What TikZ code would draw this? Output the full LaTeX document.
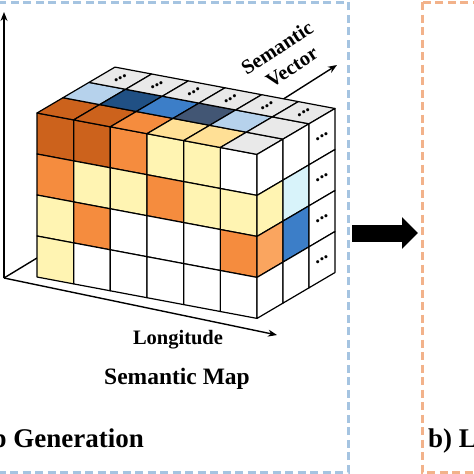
\documentclass[tikz,border=0pt]{standalone}
\usepackage{fontspec}
\setmainfont{Liberation Serif}
\usetikzlibrary{arrows.meta}

\definecolor{dkOrange}{RGB}{204,98,28}
\definecolor{midOrange}{RGB}{245,140,62}
\definecolor{sideOrange}{RGB}{250,165,95}
\definecolor{ltYellow}{RGB}{255,244,178}
\definecolor{peach}{RGB}{255,224,150}
\definecolor{ltGrey}{RGB}{233,233,233}
\definecolor{ltBlue}{RGB}{182,210,236}
\definecolor{dkBlue}{RGB}{32,80,132}
\definecolor{midBlue}{RGB}{60,126,200}
\definecolor{slate}{RGB}{66,86,116}
\definecolor{ltCyan}{RGB}{216,243,250}
\definecolor{boxBlue}{RGB}{165,196,225}
\definecolor{boxOrange}{RGB}{242,178,138}

\tikzset{
  cell/.style={draw=black, line width=1.2pt, line join=round},
  axisline/.style={line width=1.4pt, -{Stealth[length=9pt,width=7pt]}},
  dotmark/.style={font=\bfseries\fontsize{19}{19}\selectfont, inner sep=0pt, rotate=30},
  panelbox/.style={line width=3pt, dash pattern=on 8pt off 4.5pt},
  caption/.style={font=\bfseries, inner sep=0pt}
}

\begin{document}
\begin{tikzpicture}[x=1pt, y=-1pt]

  \useasboundingbox (0,0) rectangle (474,474);
  \clip (0,0) rectangle (474,474);

  % panels
  \draw[panelbox, draw=boxBlue] (-20,2) rectangle (348,472);
  \draw[panelbox, draw=boxOrange] (422,2) rectangle (500,472);

  % axes
  \coordinate (origin) at (4,278);
  \coordinate (latTip) at (4,12);
  \coordinate (lonTip) at (277,335);
  \coordinate (depthEnd) at (37,258);
  \draw[axisline] (origin) -- (latTip);
  \draw[axisline] (origin) -- (lonTip);
  \draw[line width=1.4pt] (origin) -- (depthEnd);

  % cube of semantic cells
  \begin{scope}[shift={(37pt,-113pt)}, x={(36.67pt,-6.9pt)}, y={(0pt,-41pt)}, z={(26pt,15.3pt)}]
    % front face
    \foreach \row [count=\j from 0] in {{dkOrange,dkOrange,midOrange,ltYellow,ltYellow,white},
                                        {midOrange,ltYellow,ltYellow,midOrange,ltYellow,ltYellow},
                                        {ltYellow,midOrange,white,white,white,midOrange},
                                        {ltYellow,white,white,white,white,white}} {
      \foreach \c [count=\i from 0] in \row {
        \filldraw[cell, fill=\c] (\i,\j,0) -- ++(1,0,0) -- ++(0,1,0) -- ++(-1,0,0) -- cycle;
      }
    }
    % top face
    \foreach \row [count=\k from 0] in {{dkOrange,dkOrange,midOrange,peach,peach,ltGrey},
                                        {ltBlue,dkBlue,midBlue,slate,ltBlue,ltGrey},
                                        {ltGrey,ltGrey,ltGrey,ltGrey,ltGrey,ltGrey}} {
      \foreach \c [count=\i from 0] in \row {
        \filldraw[cell, fill=\c] (\i,0,\k) -- ++(1,0,0) -- ++(0,0,1) -- ++(-1,0,0) -- cycle;
      }
    }
    % side face
    \foreach \col [count=\k from 0] in {{white,ltYellow,sideOrange,white},
                                        {white,ltCyan,midBlue,white},
                                        {white,white,white,white}} {
      \foreach \c [count=\j from 0] in \col {
        \filldraw[cell, fill=\c] (6,\j,\k) -- ++(0,0,1) -- ++(0,1,0) -- ++(0,0,-1) -- cycle;
      }
    }
    % remaining entries
    \foreach \i in {0,...,5} {
      \node[dotmark] (dotTop\i) at (\i+0.5,0,2.5) {...};
    }
    \foreach \j in {0,...,3} {
      \node[dotmark] (dotSide\j) at (6,\j+0.5,2.5) {...};
    }
    \coordinate (vecStart) at (4.6,0,3);
  \end{scope}

  % semantic vector
  \coordinate (vecEnd) at (337,65);
  \draw[axisline] (vecStart) -- (vecEnd);
  \node[caption, font=\bfseries\fontsize{20.5}{22}\selectfont, rotate=33] (semLabel) at (277,48) {Semantic};
  \node[caption, font=\bfseries\fontsize{20.5}{22}\selectfont, rotate=33] (vecLabel) at (292,67) {Vector};

  % labels
  \node[caption, font=\bfseries\fontsize{20.5}{22}\selectfont, anchor=base] (lonLabel) at (178,344) {Longitude};
  \node[caption, font=\bfseries\fontsize{23.5}{25}\selectfont, anchor=base] (mapLabel) at (177,384) {Semantic Map};
  \node[caption, font=\bfseries\fontsize{27}{29}\selectfont, anchor=base east] (genLabel) at (144,447) {p Generation};
  \node[caption, font=\bfseries\fontsize{27}{29}\selectfont, anchor=base west] (nextLabel) at (428,447) {b) L};

  % arrow to next panel
  \coordinate (stepFrom) at (352,233);
  \coordinate (stepTo) at (418,233);
  \draw[line width=17pt, -{Triangle[length=16pt,width=31pt]}] (stepFrom) -- (stepTo);

\end{tikzpicture}
\end{document}
